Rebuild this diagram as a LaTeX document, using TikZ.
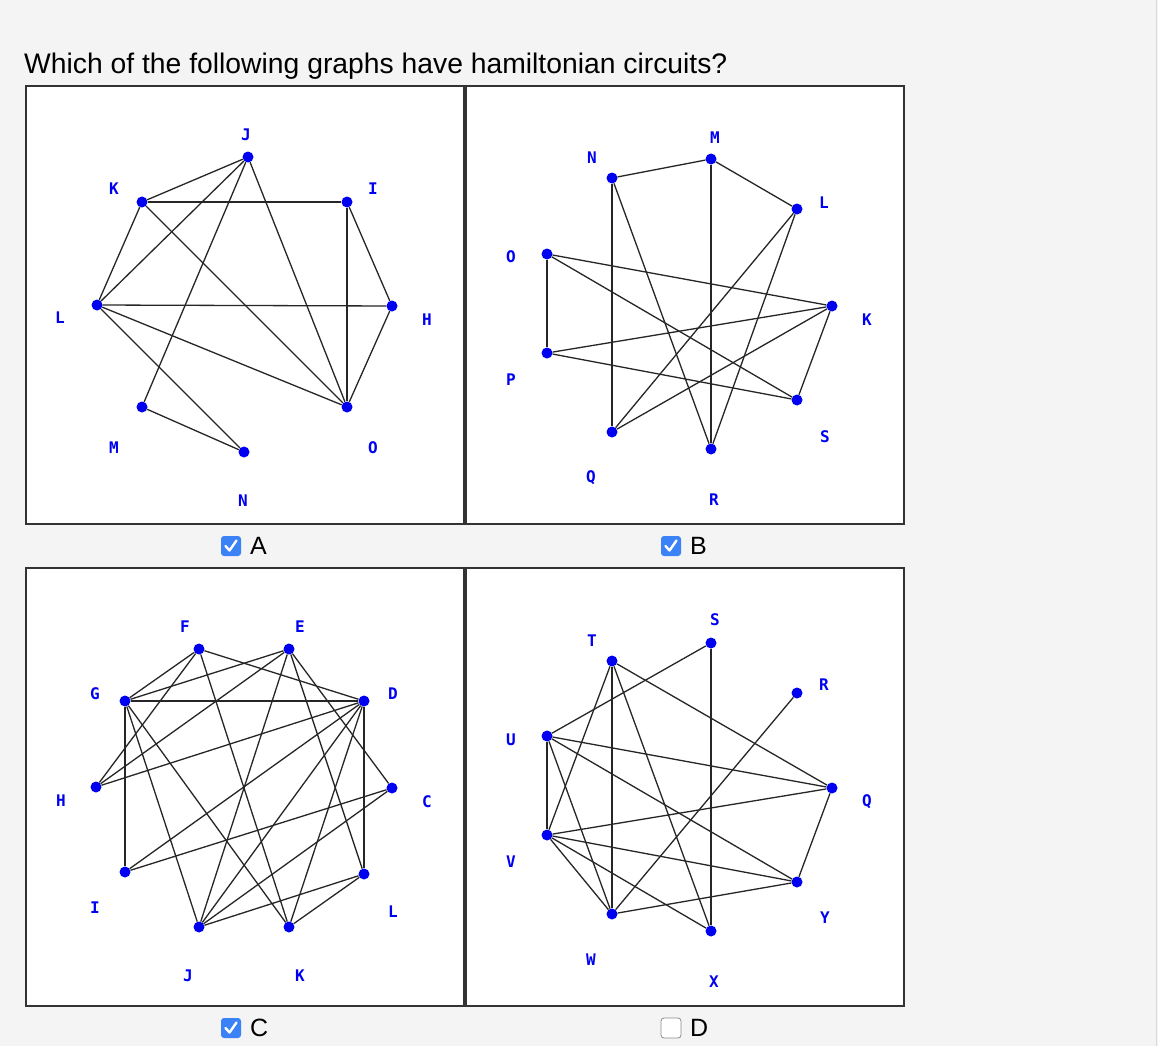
\documentclass[tikz,border=0pt]{standalone}
\usepackage{fontspec}
\setmainfont{Liberation Sans}
\newfontfamily\lblfont{DejaVu Sans Mono}
\definecolor{pagebg}{HTML}{F4F4F4}
\definecolor{nodeblue}{HTML}{0000F0}
\definecolor{chkblue}{HTML}{3B82F6}
\begin{document}
\begin{tikzpicture}[x=1pt,y=-1pt,
  vtx/.style={circle,fill=nodeblue,inner sep=0pt,minimum size=11pt},
  lbl/.style={text=nodeblue,font=\lblfont\bfseries\fontsize{16}{16}\selectfont,inner sep=0pt},
  edge/.style={draw=black!85,line width=1.3pt},
  panel/.style={draw=black!80,line width=1.5pt,fill=white},
  opt/.style={font=\fontsize{25}{25}\selectfont,anchor=west,inner sep=0pt}]
\fill[pagebg] (0,0) rectangle (1158,1046);
\useasboundingbox (0,0) rectangle (1158,1046);
\draw[black!15] (1156,0) -- (1156,1046);
\node[anchor=west,inner sep=0pt,font=\fontsize{28.3}{29}\selectfont] (title) at (24,66) {Which of the following graphs have hamiltonian circuits?};
\draw[panel] (26,86) rectangle (464,524);
\draw[panel] (466,86) rectangle (904,524);
\draw[panel] (26,568) rectangle (464,1006);
\draw[panel] (466,568) rectangle (904,1006);
% ---------- Panel A
\foreach \n/\x/\y/\lx/\ly in {J/248/157/246/135, K/142/202/114/189, I/347/202/373/189, L/97/305/60/318, H/392/306/427/320, M/142/407/114/448, O/347/407/373/448, N/244/452/243/501}{
  \node[vtx] (a\n) at (\x,\y) {};
  \node[lbl] (la\n) at (\lx,\ly) {\n};
}
\foreach \u/\v in {J/K,J/L,J/M,J/O,K/I,K/L,K/O,I/O,I/H,L/H,L/O,L/N,M/N,H/O}{
  \draw[edge] (a\u) -- (a\v);
}
% ---------- Panel B
\foreach \n/\x/\y/\lx/\ly in {M/711/159/715/138, N/612/178/592/158, L/797/209/824/203, O/547/254/511/257, K/832/306/867/320, P/547/353/511/380, S/797/400/825/437, Q/612/432/591/478, R/711/449/714/500}{
  \node[vtx] (b\n) at (\x,\y) {};
  \node[lbl] (lb\n) at (\lx,\ly) {\n};
}
\foreach \u/\v in {N/M,M/L,M/R,N/Q,N/R,O/P,O/K,O/S,P/K,P/S,L/Q,L/R,K/Q,K/S}{
  \draw[edge] (b\u) -- (b\v);
}
% ---------- Panel C
\foreach \n/\x/\y/\lx/\ly in {F/199/649/185/627, E/289/649/300/627, G/125/701/95/694, D/364/701/393/694, H/96/787/61/801, C/392/788/427/802, I/125/872/95/908, L/364/874/393/912, J/199/927/188/976, K/289/927/300/976}{
  \node[vtx] (c\n) at (\x,\y) {};
  \node[lbl] (lc\n) at (\lx,\ly) {\n};
}
\foreach \u/\v in {F/G,F/H,F/D,F/K,E/G,E/H,E/J,E/L,E/C,G/D,G/I,G/J,G/K,D/H,D/I,D/J,D/K,D/L,I/C,J/C,J/L,K/L}{
  \draw[edge] (c\u) -- (c\v);
}
% ---------- Panel D
\foreach \n/\x/\y/\lx/\ly in {S/711/643/715/620, T/612/661/592/641, R/797/693/824/685, U/547/736/511/740, Q/832/788/867/802, V/547/835/511/862, Y/797/882/825/918, W/612/914/591/960, X/711/931/714/982}{
  \node[vtx] (d\n) at (\x,\y) {};
  \node[lbl] (ld\n) at (\lx,\ly) {\n};
}
\foreach \u/\v in {T/Q,T/W,T/V,T/X,S/U,S/X,R/W,U/V,U/Q,U/Y,U/W,V/Q,V/Y,V/W,V/X,Q/Y,W/Y}{
  \draw[edge] (d\u) -- (d\v);
}
% ---------- checkboxes
\foreach \nm/\cx/\cy/\t in {A/231/546/A, B/671/546/B, C/231/1028/C}{
  \fill[chkblue,rounded corners=3pt] (\cx-10,\cy-10) rectangle (\cx+10,\cy+10);
  \draw[white,line width=2.4pt,line cap=round,line join=round] (\cx-5.5,\cy) -- (\cx-1.5,\cy+4.5) -- (\cx+5.5,\cy-5.5);
  \node[opt] (opt\nm) at (\cx+19,\cy) {\t};
}
\draw[black!45,fill=white,rounded corners=3pt,line width=0.8pt] (661,1018) rectangle (681,1038);
\node[opt] (optD) at (690,1028) {D};
\end{tikzpicture}
\end{document}
